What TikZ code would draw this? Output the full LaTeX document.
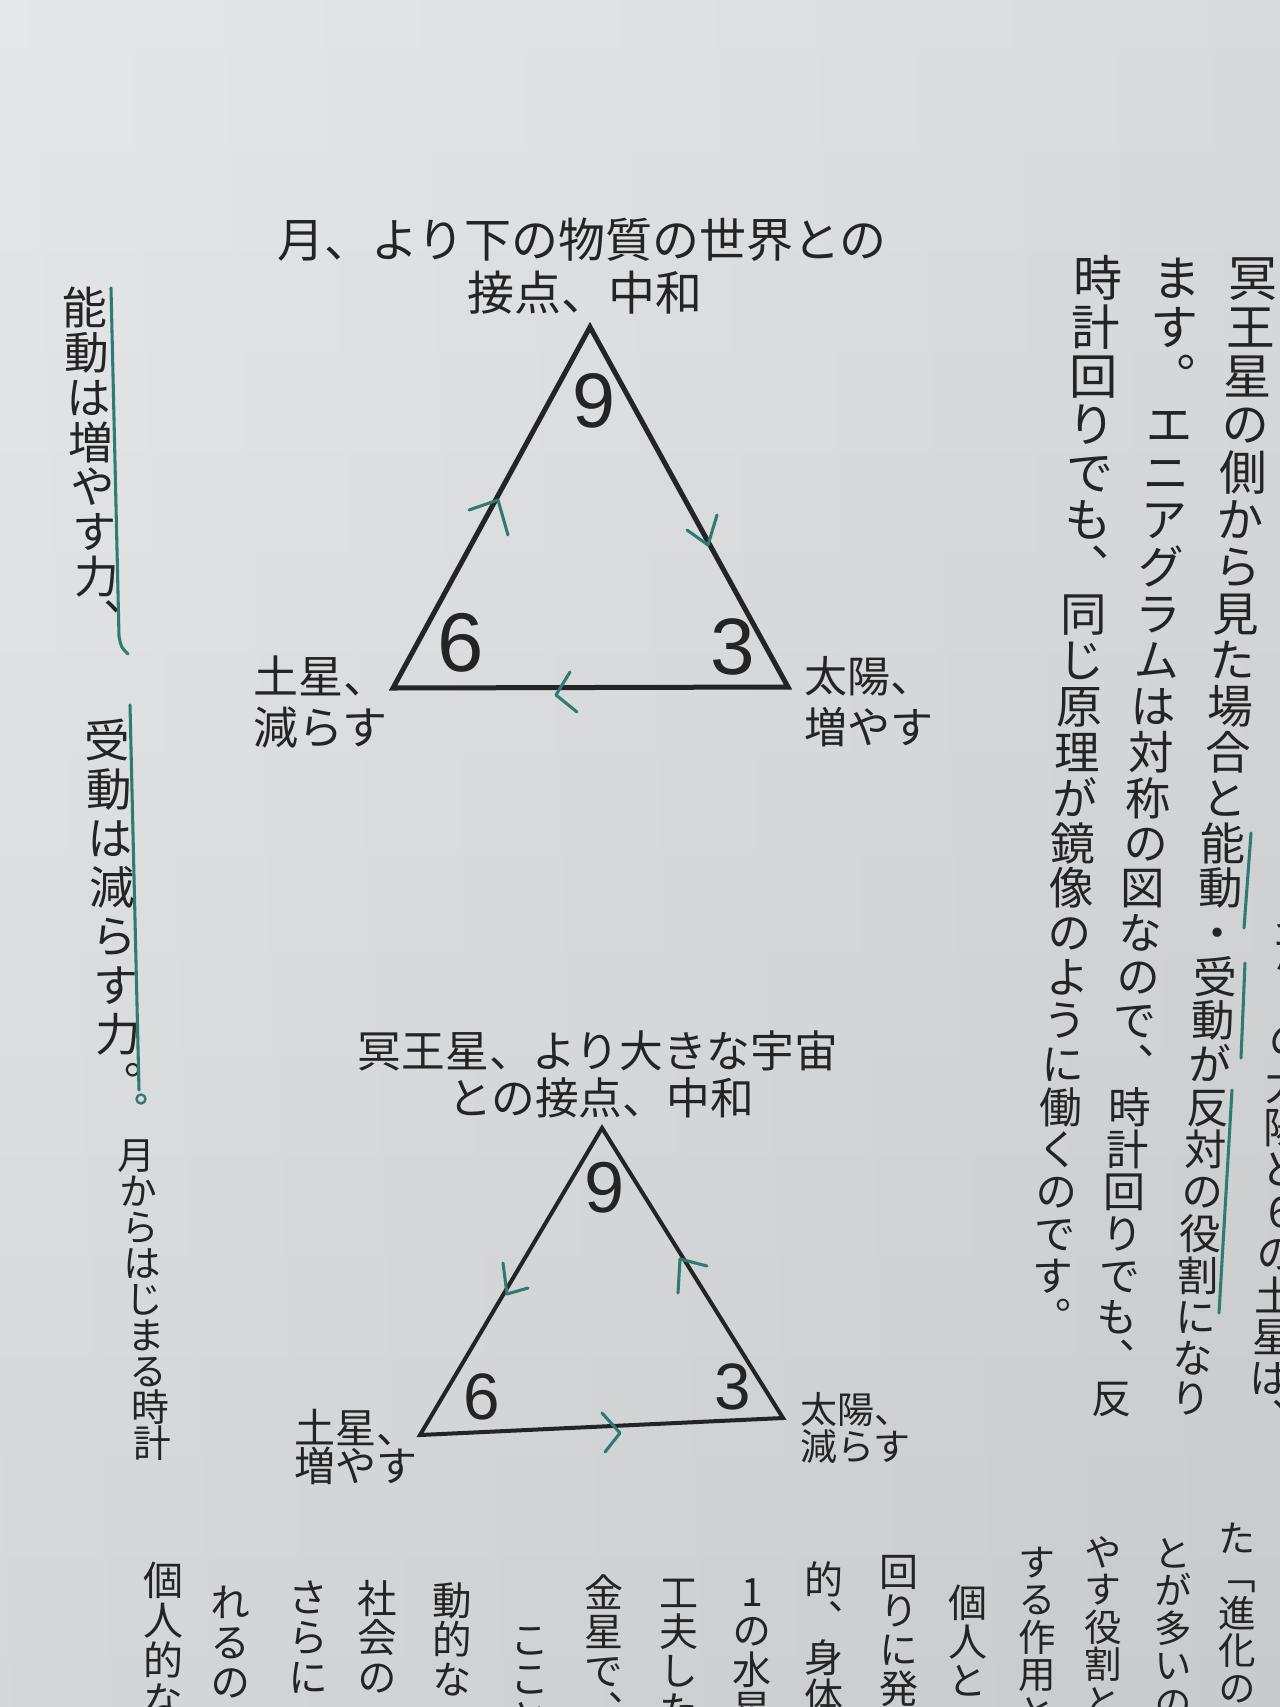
\documentclass[tikz,border=0pt]{standalone}
\usepackage{fontspec}
\setmainfont{Liberation Sans}
\newfontfamily\jp{Noto Sans CJK JP}
\newfontfamily\jpv[RawFeature=+vert]{Noto Sans CJK JP}
\definecolor{ink}{RGB}{36,36,36}
\definecolor{tealmk}{RGB}{48,122,116}
\definecolor{paperT}{RGB}{229,230,232}
\definecolor{paperB}{RGB}{212,213,215}

% vertical column: #1 name, #2 x0, #3 y0 (centre of cell 0), #4 dx per cell,
% #5 pitch at cell 0, #6 pitch decrease per cell, #7 first cell index,
% #8 characters, #9 glyph size factor relative to pitch
\newcommand\vcol[9]{%
  \foreach \vchar [count=\k from #7] in {#8}{%
    \pgfmathsetmacro\vp{#5-#6*\k}%
    \pgfmathsetmacro\vy{#3+#5*\k-#6*\k*(\k-1)/2+0.38*\vp*#9}%
    \pgfmathsetmacro\vx{#2+#4*\k}%
    \pgfmathsetmacro\vs{\vp*#9/45}%
    \node[vch,scale=\vs] (#1-\k) at (\vx,\vy) {\vchar};
  }%
}

\tikzset{
  vch/.style={inner sep=0pt, anchor=base, text=ink, font=\jpv\fontsize{33.75pt}{40pt}\selectfont},
  jpc/.style={inner sep=0pt, anchor=base, text=ink, font=\jp\fontsize{#1pt}{#1pt}\selectfont},
  jpl/.style={inner sep=0pt, anchor=base west, text=ink, font=\jp\fontsize{#1pt}{#1pt}\selectfont},
  digit/.style={inner sep=0pt, anchor=center, text=ink, font=\fontsize{#1pt}{#1pt}\selectfont},
  triA/.style={draw=ink, line join=miter, line width=3.75pt},
  triB/.style={draw=ink, line join=miter, line width=3pt},
  mk/.style={draw=tealmk, line width=2.3pt, line cap=round, line join=round},
}

\begin{document}
\begin{tikzpicture}[x=0.75pt,y=-0.75pt]
\useasboundingbox (0,0) rectangle (1280,1707);
\clip (0,0) rectangle (1280,1707);
\shade[top color=paperT, bottom color=paperB] (0,0) rectangle (1280,1707);
\shade[left color=white, right color=black, opacity=0.05] (0,0) rectangle (1280,1707);

% ---------- upper triangle ----------
\coordinate (A1) at (590,327);
\coordinate (B1) at (393,688);
\coordinate (C1) at (788,687);
\draw[triA] (A1) -- (C1) -- (B1) -- cycle;

\node[jpc=35.25] (t1a) at (582,257) {月、より下の物質の世界との};
\node[jpc=35.25] (t1b) at (585,310) {接点、中和};
\node[jpl=33.75] (l1a) at (253,693) {土星、};
\node[jpl=33.75] (l1b) at (253,744) {減らす};
\node[jpl=32.25] (r1a) at (804,692) {太陽、};
\node[jpl=32.25] (r1b) at (804,743) {増やす};

\node[digit=58] (n9a) at (594,401) {9};
\node[digit=62.5] (n6a) at (461,643) {6};
\node[digit=60] (n3a) at (733,647) {3};

\draw[mk] (469,510) -- (498,500) -- (508,535);
\draw[mk] (687,530) -- (708,545) -- (717,515);
\draw[mk] (570,672) -- (556,695) -- (577,712);

% ---------- lower triangle ----------
\coordinate (A2) at (602,1128);
\coordinate (B2) at (420,1435);
\coordinate (C2) at (783,1418);
\draw[triB] (A2) -- (C2) -- (B2) -- cycle;

\node[jpc=32.8] (t2a) at (598,1067) {冥王星、より大きな宇宙};
\node[jpc=32.8] (t2b) at (601,1114) {との接点、中和};
\node[jpl=30.75] (l2a) at (294,1443) {土星、};
\node[jpl=30.75] (l2b) at (294,1481) {増やす};
\node[jpl=27.75] (r2a) at (800,1423) {太陽、};
\node[jpl=27.75] (r2b) at (800,1460) {減らす};

\node[digit=54] (n9b) at (605,1188) {9};
\node[digit=49.2] (n6b) at (482,1397) {6};
\node[digit=49.2] (n3b) at (733,1387) {3};

\draw[mk] (503,1263) -- (507,1294) -- (528,1288);
\draw[mk] (707,1266) -- (680,1259) -- (678,1293);
\draw[mk] (602,1413) -- (620,1433) -- (605,1452);

% ---------- left caption column ----------
\vcol{capa}{85}{308}{2.0}{44.7}{0}{0}{能,動,は,増,や,す,力,、}{1}
\vcol{capb}{107}{740}{1.8}{49}{0}{0}{受,動,は,減,ら,す,力,。}{0.93}
\vcol{capc}{136}{1155}{2.0}{36}{0}{0}{月,か,ら,は,じ,ま,る,時,計}{1.05}
\draw[mk] (111,288) -- (119,636) .. controls (121,647) .. (128,654);
\draw[mk] (130,705) -- (139,1090);
\draw[mk, line width=1.8pt] (141,1099) circle[radius=4.5];

% ---------- right body text, upper block ----------
\vcol{c0}{1330}{298}{-2.5}{49}{0.348}{13}{見,た,3,の,太,陽,と,6,の,土,星,は,、}{1}
\vcol{c1}{1253}{278}{-2.5}{49}{0.348}{0}{冥,王,星,の,側,か,ら,見,た,場,合,と,能,動,・,受,動,が,反,対,の,役,割,に,な,り}{1}
\vcol{c2}{1177}{278}{-2.6}{49}{0.348}{0}{ま,す,。,エ,ニ,ア,グ,ラ,ム,は,対,称,の,図,な,の,で,、,時,計,回,り,で,も,、,反}{1}
\vcol{c3}{1098}{278}{-2.05}{49}{0.348}{0}{時,計,回,り,で,も,、,同,じ,原,理,が,鏡,像,の,よ,う,に,働,く,の,で,す,。}{1}
\draw[mk] (1251,833) -- (1244,928);
\draw[mk] (1245,963) -- (1241,1058);
\draw[mk] (1232,1090) -- (1219,1313);

% ---------- body text, lower block ----------
\vcol{b1}{1237}{1538}{0}{37.5}{0}{0}{た,「,進,化,の}{1}
\vcol{b2}{1173}{1553}{0}{37.5}{0}{0}{と,が,多,い,の}{1}
\vcol{b3}{1103}{1552}{0}{37.5}{0}{0}{や,す,役,割,と}{1}
\vcol{b4}{1037}{1562}{0}{37.5}{0}{0}{す,る,作,用,と}{1}
\vcol{b5}{968}{1603}{0}{39}{0}{0}{個,人,と}{1}
\vcol{b6}{899}{1572}{0}{39}{0}{0}{回,り,に,発}{1}
\vcol{b7}{824}{1580}{0}{39}{0}{0}{的,、,身,体}{1}
\vcol{b8}{752}{1592}{0}{39}{0}{0}{1,の,水,星}{1}
\vcol{b9}{679}{1593}{0}{39}{0}{0}{工,夫,し,た}{1}
\vcol{b10}{604}{1593}{0}{39}{0}{0}{金,星,で,、}{1}
\vcol{b11}{530}{1640}{0}{39}{0}{0}{こ,こ,と}{1}
\vcol{b12}{452}{1600}{0}{39.5}{0}{0}{動,的,な}{1}
\vcol{b13}{377}{1598}{0}{39.5}{0}{0}{社,会,の}{1}
\vcol{b14}{308}{1597}{0}{40}{0}{0}{さ,ら,に}{1}
\vcol{b15}{230}{1602}{0}{40}{0}{0}{れ,る,の,で}{1}
\vcol{b16}{163}{1580}{0}{40}{0}{0}{個,人,的,な}{1}
\end{tikzpicture}
\end{document}
